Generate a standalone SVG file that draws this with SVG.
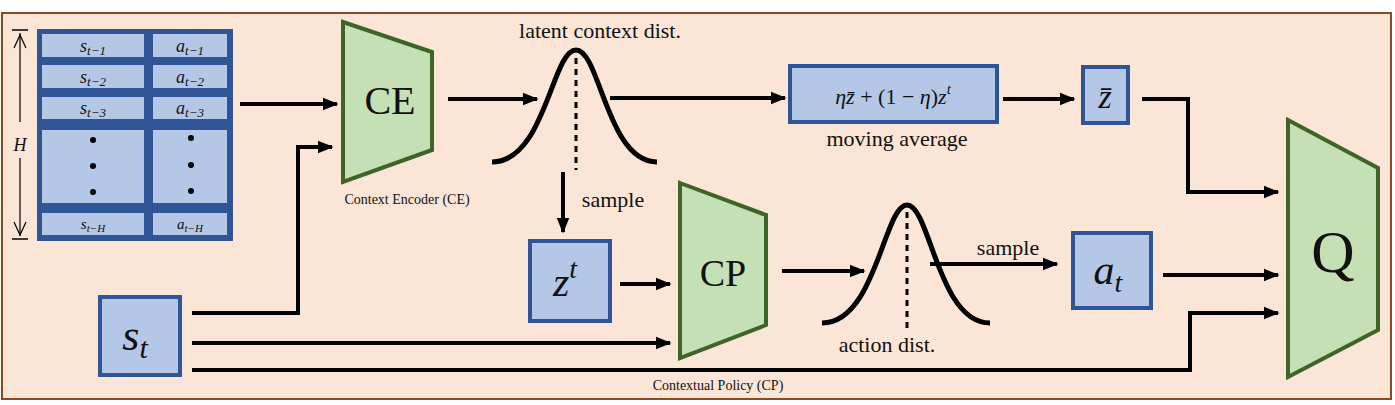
<svg xmlns="http://www.w3.org/2000/svg" width="1395" height="405" viewBox="0 0 1395 405">
<defs>
<marker id="ah" viewBox="0 0 10 10" refX="9" refY="5" markerWidth="4" markerHeight="4" orient="auto" markerUnits="strokeWidth"><path d="M0,1 L10,5 L0,9 z" fill="#000"/></marker>
<style>
.t{font-family:"Liberation Serif","DejaVu Serif",serif;fill:#111}
.m{font-family:"Liberation Serif","DejaVu Serif",serif;font-style:italic;fill:#111}
.cell{fill:#B4C7E7}
.box{fill:#B4C7E7;stroke:#2F5597;stroke-width:4}
.trap{fill:#C5E0B4;stroke:#3F6428;stroke-width:4}
.c{stroke:#000;stroke-width:4;fill:none}
.arr{marker-end:url(#ah)}
</style>
</defs>
<rect x="2" y="13" width="1389" height="386" fill="#FBE5D6" stroke="#8B4A1E" stroke-width="2"/>
<g id="history">
<line x1="12" y1="30" x2="28" y2="30" stroke="#000" stroke-width="1.5"/>
<line x1="12" y1="239" x2="28" y2="239" stroke="#000" stroke-width="1.5"/>
<line x1="20" y1="33" x2="20" y2="122" stroke="#000" stroke-width="1.2"/>
<line x1="20" y1="158" x2="20" y2="236" stroke="#000" stroke-width="1.2"/>
<path d="M14,48 L20,35 L26,48 M14,222 L20,235 L26,222" stroke="#000" stroke-width="1.2" fill="none"/>
<text class="m" x="20" y="151" font-size="18" text-anchor="middle">H</text>
<rect x="37" y="29" width="196" height="212" fill="#2F5597"/>
<rect class="cell" x="42" y="34" width="102" height="23"/><rect class="cell" x="153" y="34" width="74" height="23"/>
<rect class="cell" x="42" y="65" width="102" height="23"/><rect class="cell" x="153" y="65" width="74" height="23"/>
<rect class="cell" x="42" y="97" width="102" height="22"/><rect class="cell" x="153" y="97" width="74" height="22"/>
<rect class="cell" x="42" y="130" width="102" height="73"/><rect class="cell" x="153" y="130" width="74" height="73"/>
<rect class="cell" x="42" y="213" width="102" height="22"/><rect class="cell" x="153" y="213" width="74" height="22"/>
<text class="m" x="93" y="52" font-size="18" text-anchor="middle">s<tspan font-size="13" dy="3">t−1</tspan></text>
<text class="m" x="190" y="52" font-size="18" text-anchor="middle">a<tspan font-size="13" dy="3">t−1</tspan></text>
<text class="m" x="93" y="83" font-size="18" text-anchor="middle">s<tspan font-size="13" dy="3">t−2</tspan></text>
<text class="m" x="190" y="83" font-size="18" text-anchor="middle">a<tspan font-size="13" dy="3">t−2</tspan></text>
<text class="m" x="93" y="114" font-size="18" text-anchor="middle">s<tspan font-size="13" dy="3">t−3</tspan></text>
<text class="m" x="190" y="114" font-size="18" text-anchor="middle">a<tspan font-size="13" dy="3">t−3</tspan></text>
<text class="m" x="93" y="229" font-size="15" text-anchor="middle">s<tspan font-size="11" dy="3">t−H</tspan></text>
<text class="m" x="190" y="229" font-size="15" text-anchor="middle">a<tspan font-size="11" dy="3">t−H</tspan></text>
<g fill="#000"><circle cx="93" cy="140" r="3"/><circle cx="93" cy="166" r="3"/><circle cx="93" cy="192" r="3"/><circle cx="191" cy="138" r="3"/><circle cx="191" cy="165" r="3"/><circle cx="191" cy="191" r="3"/></g>
</g>
<g id="CE"><path class="trap" d="M343,22 L432,52 L432,150 L343,182 z"/><text class="t" x="390" y="114" font-size="40" text-anchor="middle">CE</text>
<text class="t" x="407" y="204" font-size="14" text-anchor="middle">Context Encoder (CE)</text></g>
<g id="latent"><path d="M492,162 C545,162 552,50 576,50 C600,50 607,162 657,162" stroke="#000" stroke-width="5" fill="none"/>
<line x1="576" y1="58" x2="576" y2="170" stroke="#000" stroke-width="3" stroke-dasharray="6,5"/>
<text class="t" x="600" y="38" font-size="22" text-anchor="middle">latent context dist.</text></g>
<g id="movavg"><rect class="box" x="790" y="66" width="207" height="56"/>
<text class="m" x="893" y="104" font-size="22" text-anchor="middle">η<tspan>z̄</tspan><tspan font-style="normal"> + (1 − </tspan>η<tspan font-style="normal">)</tspan>z<tspan font-size="15" dy="-10">t</tspan></text>
<text class="t" x="897" y="146" font-size="22" text-anchor="middle">moving average</text></g>
<g id="zbar"><rect class="box" x="1083" y="67" width="45" height="56"/><text class="m" x="1105" y="108" font-size="34" text-anchor="middle">z̄</text></g>
<g id="Q"><path class="trap" d="M1288,120 L1378,168 L1378,330 L1288,377 z"/><text class="t" x="1333" y="272" font-size="60" text-anchor="middle">Q</text></g>
<g id="zt"><rect class="box" x="530" y="241" width="80" height="80"/><text class="m" x="565" y="296" font-size="42" text-anchor="middle">z<tspan font-size="28" dy="-18">t</tspan></text></g>
<g id="CP"><path class="trap" d="M680,183 L766,215 L766,325 L680,358 z"/><text class="t" x="723" y="286" font-size="38" text-anchor="middle">CP</text>
<text class="t" x="718" y="390" font-size="14" text-anchor="middle">Contextual Policy (CP)</text></g>
<g id="action"><path d="M822,323 C876,323 884,205 907,205 C930,205 938,323 990,323" stroke="#000" stroke-width="5" fill="none"/>
<line x1="907" y1="212" x2="907" y2="330" stroke="#000" stroke-width="3" stroke-dasharray="6,5"/>
<text class="t" x="887" y="352" font-size="22" text-anchor="middle">action dist.</text></g>
<g id="at"><rect class="box" x="1073" y="233" width="78" height="75"/><text class="m" x="1108" y="284" font-size="42" text-anchor="middle">a<tspan font-size="28" dy="8">t</tspan></text></g>
<g id="st"><rect class="box" x="100" y="297" width="80" height="78"/><text class="m" x="135" y="350" font-size="44" text-anchor="middle">s<tspan font-size="30" dy="8">t</tspan></text></g>
<g id="connectors">
<line class="c arr" x1="240" y1="104" x2="337" y2="104"/>
<polyline class="c arr" points="192,313 298,313 298,147 332,147"/>
<line class="c arr" x1="448" y1="99" x2="537" y2="99"/>
<line class="c arr" x1="610" y1="98" x2="785" y2="98"/>
<line class="c arr" x1="1003" y1="99" x2="1074" y2="99"/>
<polyline class="c arr" points="1142,99 1188,99 1188,192 1278,192"/>
<line class="c arr" x1="563" y1="172" x2="563" y2="232"/>
<text class="t" x="613" y="207" font-size="22" text-anchor="middle">sample</text>
<line class="c arr" x1="620" y1="284" x2="670" y2="284"/>
<line class="c arr" x1="782" y1="271" x2="864" y2="271"/>
<line class="c arr" x1="930" y1="264" x2="1057" y2="264"/>
<text class="t" x="1008" y="255" font-size="22" text-anchor="middle">sample</text>
<line class="c arr" x1="1163" y1="275" x2="1278" y2="275"/>
<line class="c arr" x1="192" y1="343" x2="670" y2="343"/>
<polyline class="c arr" points="192,370 1190,370 1190,313 1278,313"/>
</g>
</svg>
